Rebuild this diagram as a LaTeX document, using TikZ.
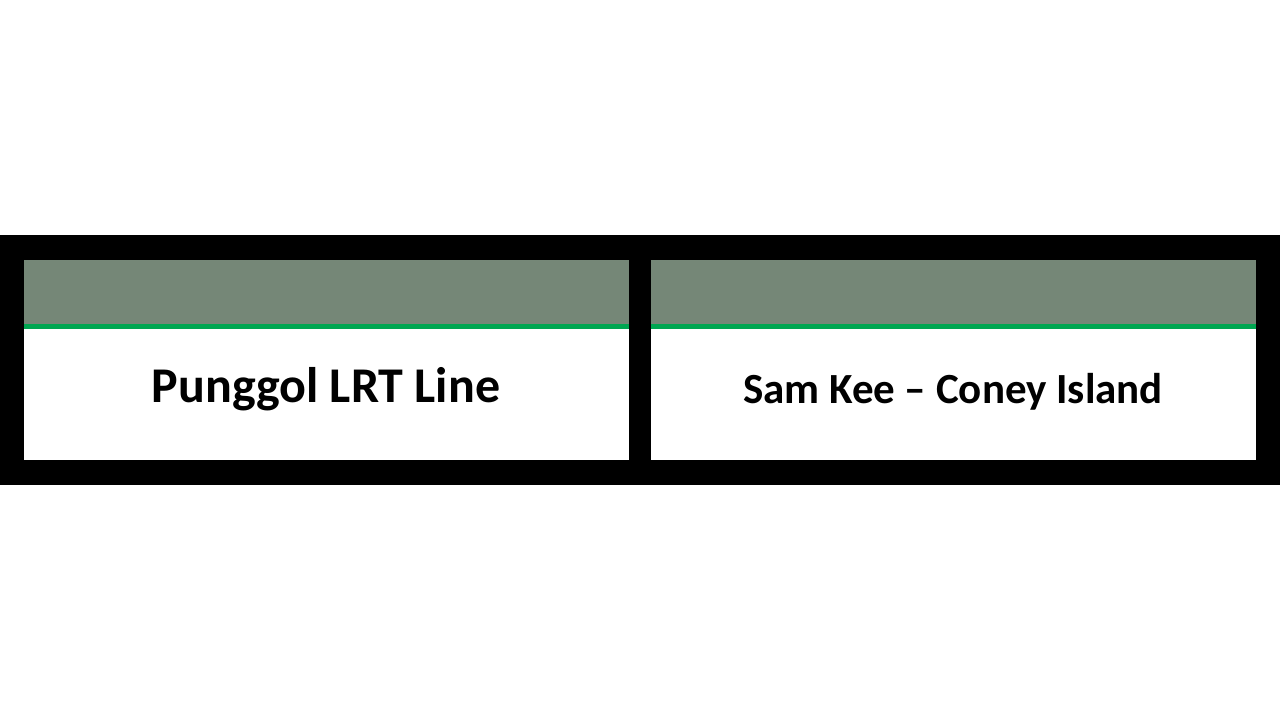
\documentclass[tikz,border=0pt]{standalone}
\usepackage{fontspec}
\setmainfont{Carlito}
\begin{document}
\begin{tikzpicture}[x=1pt,y=-1pt,
  hdr/.style={fill=gray1,draw=none},
  panel/.style={fill=white,draw=none}]
\definecolor{gray1}{HTML}{758777}
\definecolor{green1}{HTML}{00A651}
\useasboundingbox (0,0) rectangle (1280,720);
\fill[white] (0,0) rectangle (1280,720);
\fill[black] (0,235) rectangle (1280,485);
\fill[panel] (24,260) rectangle (629,460);
\fill[panel] (651,260) rectangle (1256,460);
\fill[hdr] (24,260) rectangle (629,325);
\fill[hdr] (651,260) rectangle (1256,325);
\fill[green1] (24,324) rectangle (629,329);
\fill[green1] (651,324) rectangle (1256,329);
\node[font=\bfseries\fontsize{50}{56}\selectfont] (a) at (326,389) {Punggol LRT Line};
\node[font=\bfseries\fontsize{43}{50}\selectfont] (b) at (953,392) {Sam Kee – Coney Island};
\end{tikzpicture}
\end{document}
